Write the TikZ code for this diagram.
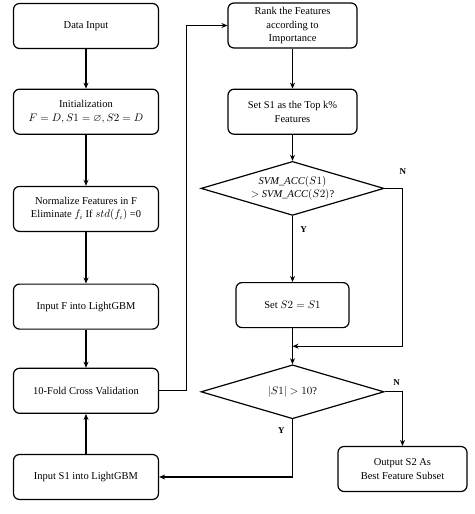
\documentclass[tikz,border=0pt]{standalone}
\usepackage{fontspec}
\setmainfont{Liberation Serif}
\usepackage{amssymb}
\usetikzlibrary{positioning, arrows.meta, shapes.geometric}
\tikzstyle{process} = [rectangle, draw, rounded corners=6pt, line width=1.2pt, minimum width=145pt, minimum height=45pt, font=\fontsize{10.5}{13.5}\selectfont, align=center]
\tikzstyle{rankbox} = [process, minimum width=129pt]
\tikzstyle{decision} = [diamond, draw, line width=1.2pt, aspect=3.4, inner sep=0pt, minimum width=183pt, minimum height=54pt, font=\fontsize{10.5}{13.5}\selectfont, align=center]
\tikzstyle{arrow} = [line width=1.2pt, -{Stealth[length=6pt, width=5pt]}]
\tikzstyle{yn} = [font=\bfseries\fontsize{9}{10}\selectfont]

\begin{document}
\begin{tikzpicture}
  \useasboundingbox (0,0) rectangle (474pt,-514pt);

  % Left column
  \node (data) [process] at (86pt,-26pt) {Data Input};
  \node (init) [process, below=39.5pt of data] {Initialization\\ $F=D, S1=\varnothing, S2=D$};
  \node (norm) [process, below=51pt of init] {Normalize Features in F\\ Eliminate $f_i$ If $std(f_i)$ =0};
  \node (inputF) [process, below=51.5pt of norm] {Input F into LightGBM};
  \node (cv) [process, below=38pt of inputF] {10-Fold Cross Validation};
  \node (inputS1) [process, below=40pt of cv] {Input S1 into LightGBM};

  % Right column
  \node (rank) [rankbox] at (292.5pt,-25.5pt) {Rank the Features\\ according to\\ Importance};
  \node (setS1) [rankbox, below=40pt of rank] {Set S1 as the Top k\%\\ Features};
  \node (dec1) [decision, below=26pt of setS1] {\textit{SVM\_ACC}$(S1)$\\ $>$ \textit{SVM\_ACC}$(S2)$?};
  \node (setS2) [process, minimum width=113pt, below=66pt of dec1] {Set $S2=S1$};
  \coordinate [below=18pt of setS2.south] (merge);
  \node (dec2) [decision, below=36pt of setS2] {$|S1|>10$?};
  \node (output) [rankbox] at (402.5pt,-469pt) {Output S2 As\\ Best Feature Subset};

  % Arrows - main flow
  \draw[arrow] (data) -- (init);
  \draw[arrow] (init) -- (norm);
  \draw[arrow] (norm) -- (inputF);
  \draw[arrow] (inputF) -- (cv);
  \draw[arrow] (inputS1) -- (cv);
  \draw[arrow] (cv.east) -- ++(27pt,0) |- (rank.west);
  \draw[arrow] (rank) -- (setS1);
  \draw[arrow] (setS1) -- (dec1);
  \draw[arrow] (dec1) -- node[yn, pos=0.2, right=4pt] {Y} (setS2);
  \draw[arrow] (dec1.east) -- node[yn, above right=10pt and 2pt] {N} ++(18pt,0) |- (merge);
  \draw[arrow] (setS2) -- (dec2);
  \draw[arrow] (dec2.east) -| node[yn, pos=0.25, above=2pt, xshift=3pt] {N} (output.north);
  \draw[arrow] (dec2.south) |- node[yn, pos=0.1, left=4pt] {Y} (inputS1.east);

\end{tikzpicture}
\end{document}
